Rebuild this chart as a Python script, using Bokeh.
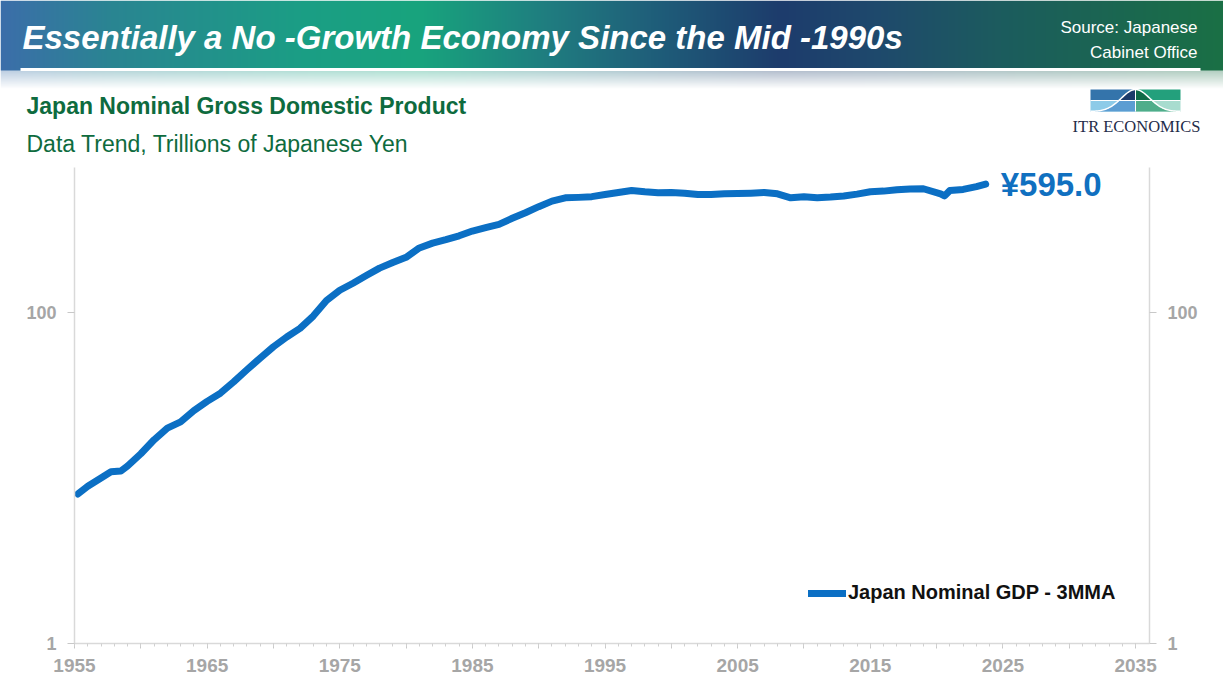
import numpy as np
from bokeh.plotting import figure
from bokeh.layouts import column
from bokeh.models import (Range1d, LogAxis, FixedTicker, PrintfTickFormatter, Label)
from bokeh.embed import file_html
from bokeh.resources import INLINE

# ---------------- data ----------------
years = [1955.25, 1956.0, 1957.0, 1957.75, 1958.5, 1959.0, 1960.0, 1961.0, 1962.0, 1963.0,
         1964.0, 1965.0, 1966.0, 1967.0, 1968.0, 1969.0, 1970.0, 1971.0, 1972.0, 1973.0,
         1974.0, 1975.0, 1976.0, 1977.0, 1978.0, 1979.0, 1980.0, 1981.0, 1982.0, 1983.0,
         1984.0, 1985.0, 1986.0, 1987.0, 1988.0, 1989.0, 1990.0, 1991.0, 1992.0, 1993.0,
         1994.0, 1995.0, 1996.0, 1997.0, 1998.0, 1999.0, 2000.0, 2001.0, 2002.0, 2003.0,
         2004.0, 2005.0, 2006.0, 2007.0, 2008.0, 2009.0, 2010.0, 2011.0, 2012.0, 2013.0,
         2014.0, 2015.0, 2016.0, 2017.0, 2018.0, 2019.0, 2020.3, 2020.6, 2021.0, 2022.0,
         2023.0, 2023.7]
gdp = [8.0, 8.9, 10.0, 10.9, 11.0, 11.8, 14.0, 17.0, 20.0, 21.8,
       25.5, 29.0, 32.5, 38.0, 45.0, 53.0, 62.0, 71.0, 80.0, 95.0,
       118.0, 136.0, 150.0, 167.0, 185.0, 200.0, 215.0, 245.0, 262.0, 275.0,
       290.0, 310.0, 325.0, 340.0, 370.0, 400.0, 435.0, 470.0, 492.0, 495.0,
       500.0, 515.0, 530.0, 545.0, 535.0, 528.0, 530.0, 525.0, 515.0, 515.0,
       520.0, 522.0, 525.0, 530.0, 520.0, 492.0, 500.0, 493.0, 497.0, 505.0,
       518.0, 535.0, 540.0, 550.0, 556.0, 558.0, 520.0, 505.0, 545.0, 553.0,
       575.0, 595.0]
x_tick_years = list(range(1955, 2040, 5))
x_label_years = list(range(1955, 2040, 10))
x_minor_years = list(range(1955, 2036))
y_tick_values = [1, 100, 10000]

series_name = "Japan Nominal GDP - 3MMA"
title_text = "Essentially a No -Growth Economy Since the Mid -1990s"
source_lines = ["Source: Japanese", "Cabinet Office"]
subtitle1 = "Japan Nominal Gross Domestic Product"
subtitle2 = "Data Trend, Trillions of Japanese Yen"

FONT = "Liberation Sans"
W = 1223
HEAD_H = 160

def no_align(fig):
    try:
        fig.frame_align = False
    except Exception:
        pass

# ---------------- header figure ----------------
h = figure(width=W, height=HEAD_H, x_range=Range1d(0, W), y_range=Range1d(0, HEAD_H),
           min_border=0, min_border_left=0, min_border_right=0, min_border_top=0,
           min_border_bottom=0, toolbar_location=None, output_backend="svg",
           x_axis_location=None, y_axis_location=None, outline_line_color=None)
h.xgrid.visible = False
h.ygrid.visible = False
no_align(h)

def hex2rgb(c):
    c = c.lstrip("#")
    return [int(c[i:i + 2], 16) for i in (0, 2, 4)]

stops = [(0, "#3c6eaa"), (110, "#2a8592"), (300, "#1b9e85"), (420, "#18a47d"),
         (540, "#1f7f80"), (650, "#1f5f7a"), (780, "#1d3c6c"), (880, "#1f4a6c"),
         (1000, "#1c5c5e"), (1223, "#1a7045")]
sx = np.array([s[0] for s in stops], dtype=float)
rgb = np.array([hex2rgb(s[1]) for s in stops], dtype=float)
BH = 88
xs = np.arange(W)
img = np.zeros((BH, W, 4), dtype=np.uint8)
cols = np.stack([np.interp(xs, sx, rgb[:, k]) for k in range(3)], axis=1)
for r in range(BH):
    if r < 70:
        a = 1.0
        c = cols
    else:
        a = max(0.0, 0.55 * (1 - (r - 70) / (BH - 70)))
        c = cols * 0.6 + 255 * 0.4
    img[r, :, 0:3] = c.astype(np.uint8)
    img[r, :, 3] = int(255 * a)
img = np.flipud(img).copy()
img32 = img.view(dtype=np.uint32).reshape((BH, W))
h.image_rgba(image=[img32], x=0, y=HEAD_H - BH, dw=W, dh=BH)

def fy(v):
    return HEAD_H - np.asarray(v, dtype=float)

# white rule
h.segment(x0=[20], y0=[fy(69)], x1=[1200], y1=[fy(69)], line_color="white", line_width=3)

h.add_layout(Label(x=22, y=fy(37), text=title_text, text_color="white",
                   text_font=FONT, text_font_style="bold italic", text_font_size="33px",
                   text_baseline="middle", text_align="left"))
h.add_layout(Label(x=1197, y=fy(27), text=source_lines[0], text_color="white",
                   text_font=FONT, text_font_size="17px", text_baseline="middle", text_align="right"))
h.add_layout(Label(x=1197, y=fy(52), text=source_lines[1], text_color="white",
                   text_font=FONT, text_font_size="17px", text_baseline="middle", text_align="right"))
h.add_layout(Label(x=26, y=fy(105), text=subtitle1, text_color="#0e6b3e",
                   text_font=FONT, text_font_style="bold", text_font_size="23px",
                   text_baseline="middle", text_align="left"))
h.add_layout(Label(x=26, y=fy(143), text=subtitle2, text_color="#0e6b3e",
                   text_font=FONT, text_font_size="23px",
                   text_baseline="middle", text_align="left"))

# logo
LX0, LX1, LXM = 1090, 1180, 1135
LY0, LY1, LYM = 89, 111, 100
h.quad(left=[LX0, LXM, LX0, LXM], right=[LXM, LX1, LXM, LX1],
       top=fy([LY0, LY0, LYM, LYM]), bottom=fy([LYM, LYM, LY1, LY1]),
       fill_color=["#3474ab", "#23a07c", "#8dcbe8", "#a8dccf"], line_color=None)
cx = np.linspace(LX0, LX1, 91)
cy = LY1 - (LY1 - LY0) * np.exp(-((cx - LXM) / 20.0) ** 2)
for side, ctop, cbot in ((cx <= LXM, "#1b3a6a", "#5b9dd2"), (cx >= LXM, "#0f6a47", "#4fad8a")):
    px = cx[side]
    py = cy[side]
    yb = np.maximum(py, LYM)
    h.patch(x=np.concatenate([px, px[::-1]]), y=fy(np.concatenate([yb, np.full_like(px, LY1)])),
            fill_color=cbot, line_color=None)
    yt = np.minimum(py, LYM)
    h.patch(x=np.concatenate([px, px[::-1]]), y=fy(np.concatenate([yt, np.full_like(px, LYM)])),
            fill_color=ctop, line_color=None)
h.line(x=cx, y=fy(cy), line_color="white", line_width=1.5)
h.segment(x0=[LXM], y0=[fy(LY0)], x1=[LXM], y1=[fy(LY1)], line_color="white", line_width=1)
h.segment(x0=[LX0], y0=[fy(LYM)], x1=[LX1], y1=[fy(LYM)], line_color="white", line_width=1)
h.add_layout(Label(x=1136, y=fy(126), text="ITR ECONOMICS", text_color="#1f2d4a",
                   text_font="Liberation Serif", text_font_size="16.5px",
                   text_baseline="middle", text_align="center"))

# ---------------- main chart ----------------
MAIN_H = 690 - HEAD_H
p = figure(width=W, height=MAIN_H, y_axis_type="log",
           x_range=Range1d(1955, 2036.05), y_range=Range1d(1, 750),
           min_border_left=74, min_border_right=74, min_border_top=7, min_border_bottom=47,
           toolbar_location=None, output_backend="svg", outline_line_color=None)
p.xgrid.visible = False
p.ygrid.visible = False
no_align(p)

r = p.line(years, gdp, line_width=7, line_color="#0b6fc4", line_cap="round",
           line_join="round", legend_label=series_name)

AX_COLOR = "#d9d9d9"
LBL_COLOR = "#a6a6a6"

def style_axis(ax):
    ax.axis_line_color = AX_COLOR
    ax.axis_line_width = 1.5
    ax.major_tick_line_color = "#c8c8c8"
    ax.minor_tick_line_color = "#d0d0d0"
    ax.major_label_text_color = LBL_COLOR
    ax.major_label_text_font = FONT
    ax.major_label_text_font_style = "bold"
    ax.major_label_text_font_size = "18px"
    ax.major_tick_in = 0

yl = p.yaxis[0]
style_axis(yl)
yl.ticker = FixedTicker(ticks=y_tick_values, minor_ticks=[])
yl.formatter = PrintfTickFormatter(format="%d")
yl.major_tick_out = 7
yl.minor_tick_out = 0
yl.major_label_standoff = 11

yr = LogAxis(ticker=FixedTicker(ticks=y_tick_values, minor_ticks=[]),
             formatter=PrintfTickFormatter(format="%d"))
style_axis(yr)
yr.major_tick_out = 7
yr.minor_tick_out = 0
yr.major_label_standoff = 11
p.add_layout(yr, "right")

xa = p.xaxis[0]
style_axis(xa)
xa.major_label_text_font_size = "19px"
xa.ticker = FixedTicker(ticks=x_tick_years, minor_ticks=x_minor_years)
xa.major_label_overrides = {y: ("" if y not in x_label_years else str(y)) for y in x_tick_years}
xa.major_tick_out = 5
xa.minor_tick_out = 3
xa.major_label_standoff = 10

p.add_layout(Label(x=years[-1], y=gdp[-1], x_offset=15, text=f"¥{gdp[-1]:.1f}",
                   text_color="#1070c0", text_font=FONT, text_font_style="bold",
                   text_font_size="33px", text_baseline="middle", text_align="left"))

lg = p.legend[0]
lg.location = (734, 39)
lg.glyph_width = 38
lg.glyph_height = 20
lg.label_standoff = 2
lg.padding = 0
lg.margin = 0
lg.border_line_color = None
lg.background_fill_alpha = 0
lg.label_text_font = FONT
lg.label_text_font_style = "bold"
lg.label_text_font_size = "20px"
lg.label_text_color = "#111111"

layout = column(h, p, spacing=0)
open("out.html", "w").write(file_html(layout, INLINE))
